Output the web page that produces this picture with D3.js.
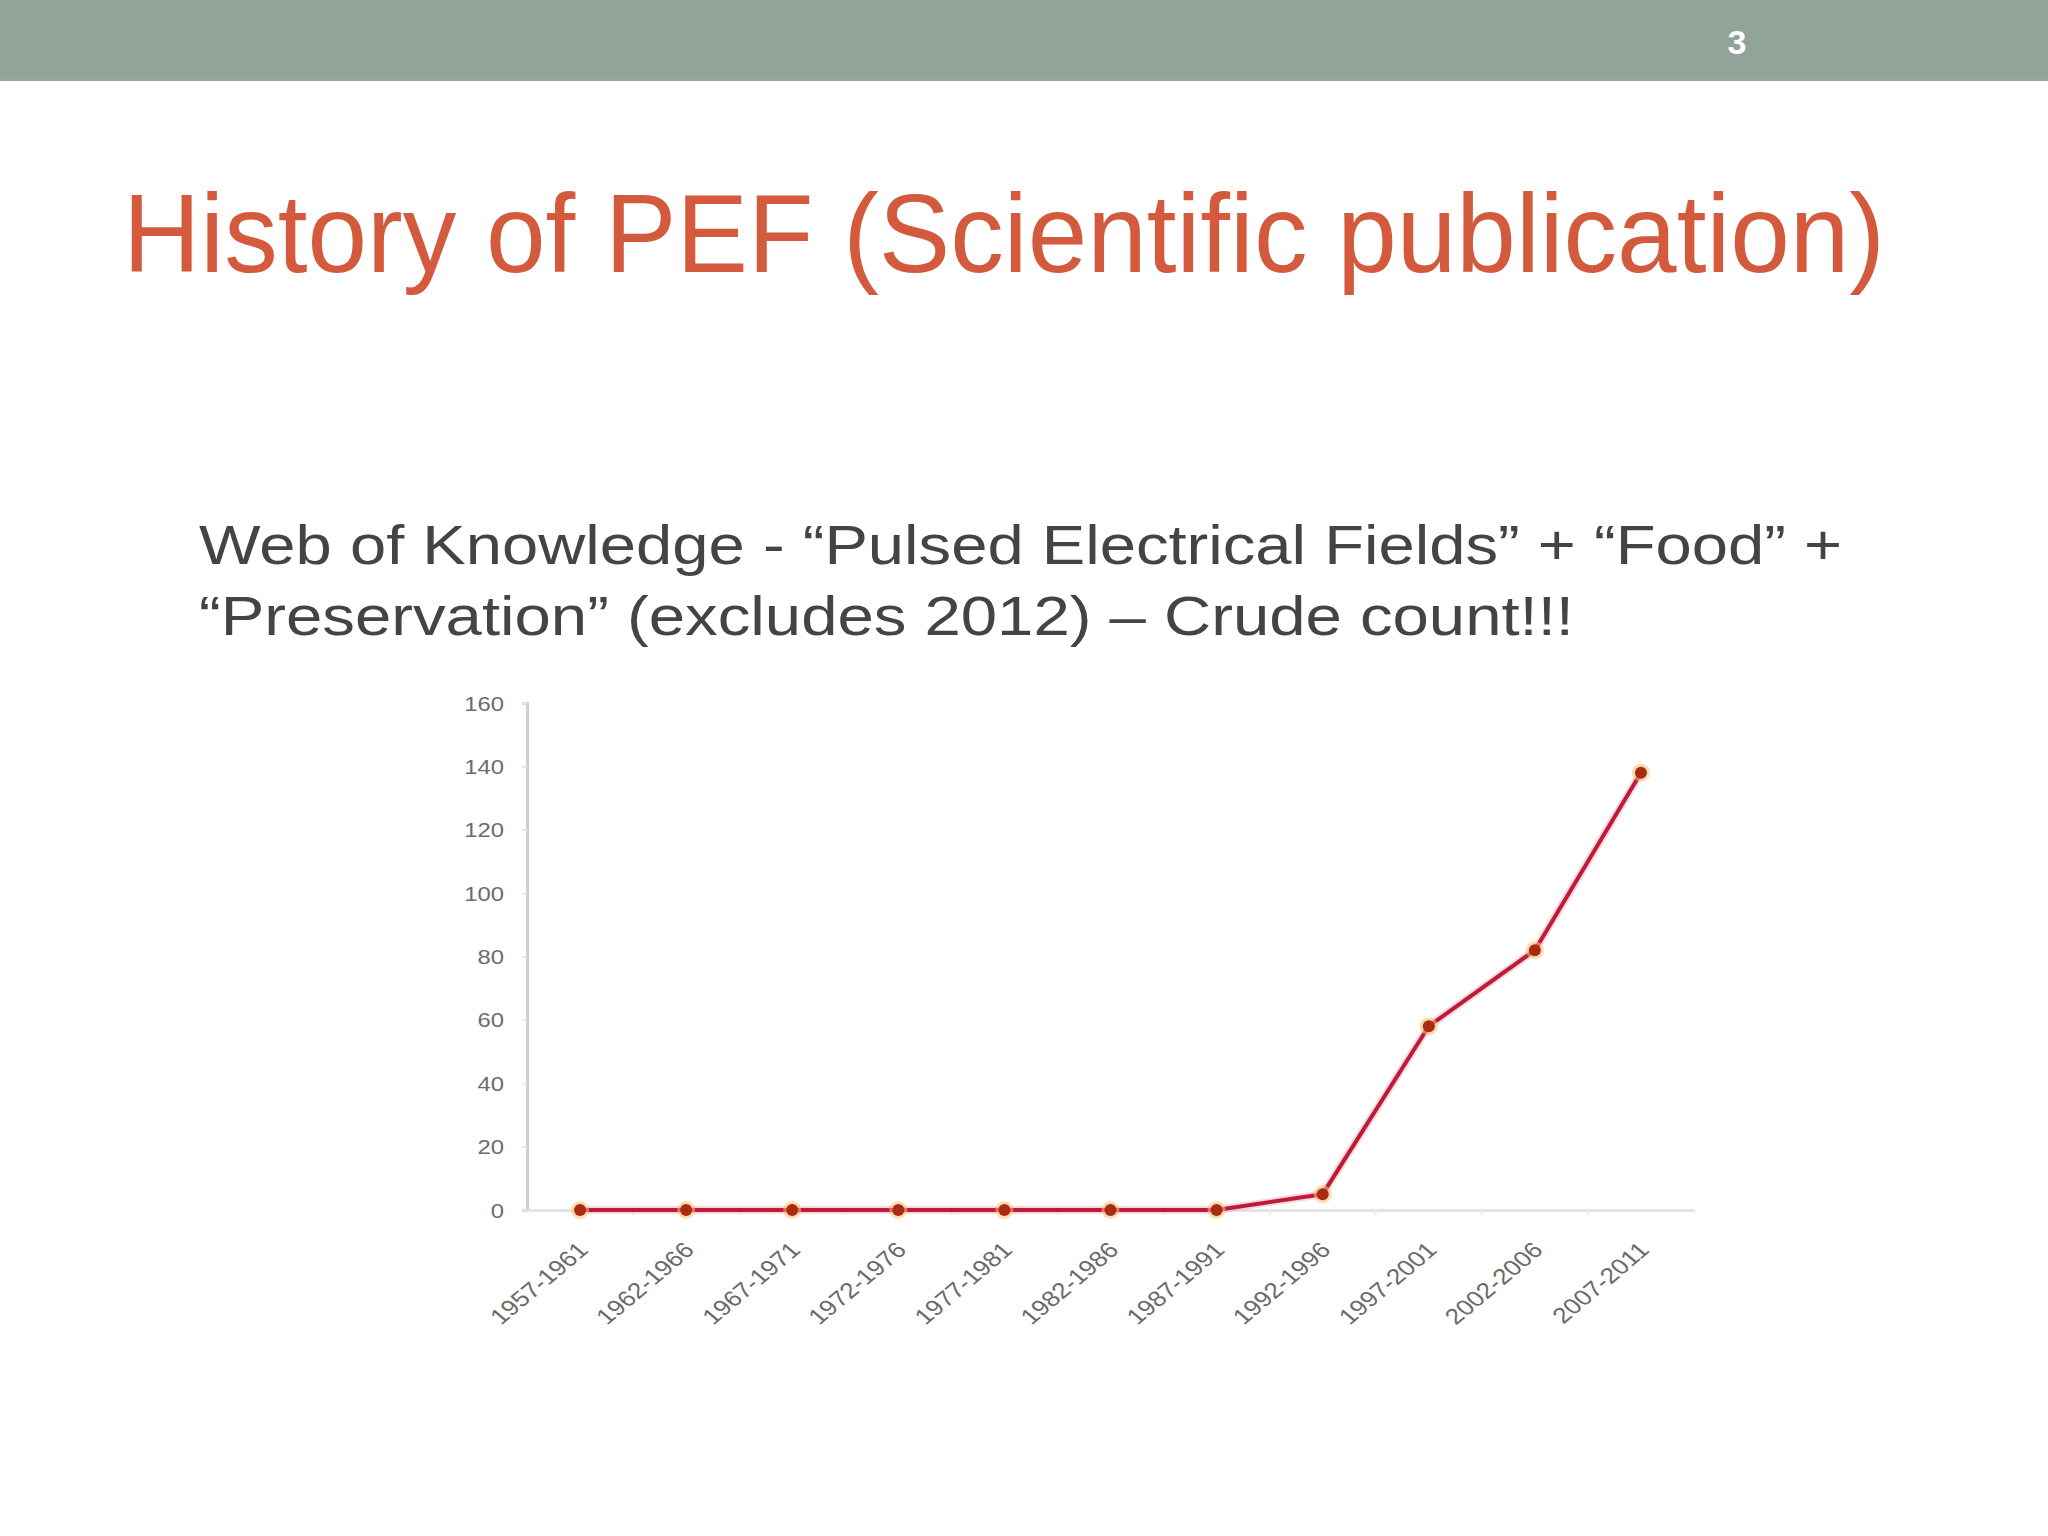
<!DOCTYPE html>
<html>
<head>
<meta charset="utf-8">
<script src="https://cdn.jsdelivr.net/npm/d3@7.9.0/dist/d3.min.js"></script>
<style>
  body { margin: 0; background: #fff; }
  svg { display: block; font-family: "Liberation Sans", Arial, sans-serif; }
</style>
</head>
<body>
<svg id="slide" width="2048" height="1536"></svg>
<script>
// === Data ===
const periods = ['1957-1961', '1962-1966', '1967-1971', '1972-1976', '1977-1981', '1982-1986',
  '1987-1991', '1992-1996', '1997-2001', '2002-2006', '2007-2011'];
const counts = [0, 0, 0, 0, 0, 0, 0, 5, 58, 82, 138];
const yTicks = [0, 20, 40, 60, 80, 100, 120, 140, 160];

const titleText = 'History of PEF (Scientific publication)';
const subtitleLines = [
  'Web of Knowledge - \u201cPulsed Electrical Fields\u201d + \u201cFood\u201d +',
  '\u201cPreservation\u201d (excludes 2012) \u2013 Crude count!!!'
];
const slideNumber = '3';

const svg = d3.select('#slide');
const stretch = 1.19; // the pasted chart picture is a bit wider than tall

// === Slide header bar ===
svg.append('rect').attr('x', 0).attr('y', 0).attr('width', 2048).attr('height', 81).attr('fill', '#92a39a');
svg.append('rect').attr('x', 0).attr('y', 79).attr('width', 2048).attr('height', 2).attr('fill', '#9ea3a3');
svg.append('text')
  .attr('x', 1737).attr('y', 54)
  .attr('text-anchor', 'middle')
  .attr('fill', '#fff')
  .attr('font-size', 34)
  .attr('font-weight', 'bold')
  .text(slideNumber);

// === Title ===
svg.append('text')
  .attr('x', 123).attr('y', 272)
  .attr('fill', '#d35a3c')
  .attr('font-size', 112)
  .attr('textLength', 1762)
  .attr('lengthAdjust', 'spacingAndGlyphs')
  .text(titleText);

// === Subtitle (part of the pasted chart picture) ===
const subLen = [1643, 1375];
subtitleLines.forEach((line, i) => {
  svg.append('text')
    .attr('x', 199).attr('y', 564 + i * 71)
    .attr('fill', '#444')
    .attr('font-size', 56)
    .attr('textLength', subLen[i])
    .attr('lengthAdjust', 'spacingAndGlyphs')
    .text(line);
});

// === Chart ===
const x = d3.scaleBand().domain(periods).range([527, 1694]);
const y = d3.scaleLinear().domain([0, 160]).range([1210, 703]);
const cx = (d) => x(d) + x.bandwidth() / 2;

// y axis
const yAxis = svg.append('g')
  .attr('transform', `translate(${x.range()[0]},0)`)
  .call(d3.axisLeft(y).tickValues(yTicks).tickSize(5).tickPadding(0));
yAxis.select('.domain').attr('stroke', '#cfcfcf').attr('stroke-width', 3);
yAxis.selectAll('.tick line').attr('stroke', '#e6e6e6').attr('stroke-width', 2);
yAxis.selectAll('.tick text')
  .attr('x', -23 / stretch)
  .attr('dy', '0.35em')
  .attr('transform', `scale(${stretch},1)`)
  .attr('fill', '#6c6c6c')
  .attr('font-size', 20)
  .attr('font-family', '"Liberation Sans", Arial, sans-serif');

// x axis
const xAxis = svg.append('g')
  .attr('transform', `translate(0,${y(0)})`)
  .call(d3.axisBottom(x).tickSize(0).tickFormat(''));
xAxis.select('.domain').attr('stroke', '#e4e4e4').attr('stroke-width', 3);

// faint separators between categories
svg.append('g').selectAll('line')
  .data(periods.slice(1))
  .join('line')
  .attr('x1', (d) => x(d)).attr('x2', (d) => x(d))
  .attr('y1', y(0)).attr('y2', y(0) + 5)
  .attr('stroke', '#ececec').attr('stroke-width', 2);

// rotated category labels
svg.append('g').selectAll('text')
  .data(periods)
  .join('text')
  .attr('transform', (d) => `translate(${cx(d) + 3},${y(0) + 36}) scale(${stretch},1) rotate(-45)`)
  .attr('text-anchor', 'end')
  .attr('dy', '0.35em')
  .attr('fill', '#6a6a6a')
  .attr('font-size', 22)
  .text((d) => d);

// line
const line = d3.line()
  .x((d, i) => cx(periods[i]))
  .y((d) => y(d));

svg.append('path')
  .datum(counts)
  .attr('d', line)
  .attr('fill', 'none')
  .attr('stroke', '#f3b0b8')
  .attr('stroke-width', 8)
  .attr('opacity', 0.5);

svg.append('path')
  .datum(counts)
  .attr('d', line)
  .attr('fill', 'none')
  .attr('stroke', '#bc1c3a')
  .attr('stroke-width', 4)
  .attr('stroke-linejoin', 'round');

// markers
const pts = svg.append('g').selectAll('g')
  .data(counts)
  .join('g')
  .attr('transform', (d, i) => `translate(${cx(periods[i])},${y(d)})`);
pts.append('circle').attr('r', 9).attr('fill', '#ffc070').attr('opacity', 0.55);
pts.append('circle').attr('r', 6).attr('fill', '#a82c14');
</script>
</body>
</html>
